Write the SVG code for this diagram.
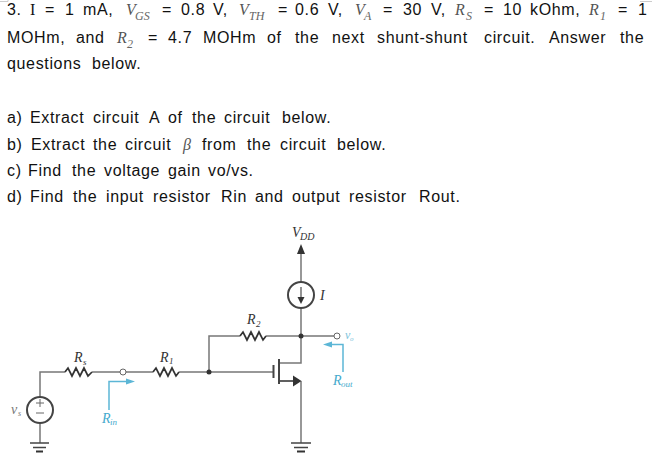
<svg xmlns="http://www.w3.org/2000/svg" width="652" height="468" viewBox="0 0 652 468">
<style>
.t{font:16px "Liberation Sans",Arial,sans-serif;fill:#111;letter-spacing:.65px}
.i{font:16px "Liberation Serif","Times New Roman",serif;fill:#111}
.m{font:italic 16px "Liberation Serif","Times New Roman",serif;fill:#555}
.ms{font:italic 12px "Liberation Serif","Times New Roman",serif;fill:#666}
.c{font-family:"Liberation Serif","Times New Roman",serif;font-style:italic;fill:#333}
.b{font-family:"Liberation Serif","Times New Roman",serif;font-style:italic;fill:#45aacd}
.w{fill:none;stroke:#777;stroke-width:1.5}
.r{fill:none;stroke:#333;stroke-width:1.7;stroke-linejoin:miter}
.s{fill:#fff;stroke:#444;stroke-width:2}
.o{fill:#fff;stroke:#666;stroke-width:1}
.g{stroke:#444;stroke-width:1.5;fill:none}
.a{fill:none;stroke:#5cb6d6;stroke-width:1.5}
</style>
<g id="scan-edges"><path d="M0 1.500H8V0M640 1.500H652" stroke="#ccc" stroke-width="1" fill="none"/></g>
<g id="problem-text">
<text class="t" y="15"><tspan x="7">3.</tspan><tspan x="45">=</tspan><tspan x="65">1</tspan><tspan x="83">mA,</tspan><tspan x="162">=</tspan><tspan x="181">0.8</tspan><tspan x="213">V,</tspan><tspan x="278">=</tspan><tspan x="295">0.6</tspan><tspan x="328">V,</tspan><tspan x="383">=</tspan><tspan x="403">30</tspan><tspan x="431">V,</tspan><tspan x="484">=</tspan><tspan x="503">10</tspan><tspan x="530">kOhm,</tspan><tspan x="618">=</tspan><tspan x="638">1</tspan></text>
<text class="i" x="30" y="15">I</text>
<text class="m" x="126" y="15">V</text><text class="ms" x="135" y="20">GS</text>
<text class="m" x="239" y="15">V</text><text class="ms" x="249" y="20">TH</text>
<text class="m" x="355" y="15">V</text><text class="ms" x="364" y="20">A</text>
<text class="m" x="455" y="15">R</text><text class="ms" x="466" y="20">S</text>
<text class="m" x="589" y="15">R</text><text class="ms" x="600" y="20">1</text>
<text class="t" y="43"><tspan x="7">MOHm,</tspan><tspan x="76">and</tspan><tspan x="148">=</tspan><tspan x="168">4.7</tspan><tspan x="203">MOHm</tspan><tspan x="267">of</tspan><tspan x="295">the</tspan><tspan x="332">next</tspan><tspan x="377">shunt-shunt</tspan><tspan x="484">circuit.</tspan><tspan x="549">Answer</tspan><tspan x="620">the</tspan></text>
<text class="m" x="117" y="43">R</text><text class="ms" x="127" y="48">2</text>
<text class="t" y="69"><tspan x="7">questions</tspan><tspan x="92">below.</tspan></text>
<text class="t" y="123"><tspan x="7">a)</tspan><tspan x="30">Extract</tspan><tspan x="93">circuit</tspan><tspan x="149">A</tspan><tspan x="168">of</tspan><tspan x="192">the</tspan><tspan x="224">circuit</tspan><tspan x="282">below.</tspan></text>
<text class="t" y="150"><tspan x="7">b)</tspan><tspan x="31">Extract</tspan><tspan x="93">the</tspan><tspan x="125">circuit</tspan><tspan x="202">from</tspan><tspan x="247">the</tspan><tspan x="280">circuit</tspan><tspan x="337">below.</tspan></text>
<text class="m" x="183" y="150">β</text>
<text class="t" y="176"><tspan x="7">c)</tspan><tspan x="28">Find</tspan><tspan x="72">the</tspan><tspan x="104">voltage</tspan><tspan x="168">gain</tspan><tspan x="208">vo/vs.</tspan></text>
<text class="t" y="202"><tspan x="7">d)</tspan><tspan x="30">Find</tspan><tspan x="73">the</tspan><tspan x="106">input</tspan><tspan x="153">resistor</tspan><tspan x="221">Rin</tspan><tspan x="255">and</tspan><tspan x="292">output</tspan><tspan x="349">resistor</tspan><tspan x="419">Rout.</tspan></text>
</g>
<g id="connectors">
<path class="w" d="M301 252V282M301 308V363M301 381V443M301 336H334M301 336H266M240 336H209V372M209 372H273M179 372H209M153 372H126M120 372H92M65 372H40V397M40 423V443M279 363H301V336"/>
<path d="M279 381H293" stroke="#444" stroke-width="1.7" fill="none"/>
<path d="M293 375.500L301.500 381L293 386.500Z" fill="#333"/>
<path d="M301 244L297 254H305Z" fill="#333"/>
<path class="a" d="M109 410V381.500H130"/><path d="M135 381.500L126 378.500V384.500Z" fill="#5cb6d6"/>
<path class="a" d="M343 372V344.500H328"/><path d="M323 344.500L332 341.500V347.500Z" fill="#5cb6d6"/>
</g>
<g id="vdd"><text class="c" x="292" y="237" font-size="14">V</text><text class="c" x="300" y="240" font-size="10">DD</text></g>
<g id="current-source"><circle class="s" cx="301" cy="295" r="13"/><path d="M301 287V301" stroke="#666" stroke-width="1.4"/><path d="M297.500 297L301 304L304.500 297Z" fill="#333"/><text class="c" x="320" y="300" font-size="14">I</text></g>
<g id="r2"><path class="r" d="M240 336L243 332L247 340L251 332L255 340L259 332L263 340L266 336"/><text class="c" x="247" y="324" font-size="14">R</text><text class="c" x="256" y="327" font-size="9" font-style="normal">2</text></g>
<g id="r1"><path class="r" d="M153 372L156 368L160 376L164 368L168 376L172 368L176 376L179 372"/><text class="c" x="160" y="362" font-size="14">R</text><text class="c" x="169" y="364" font-size="9" font-style="normal">1</text></g>
<g id="rs"><path class="r" d="M65 372L68 368L72 376L76 368L80 376L84 368L88 376L92 372"/><text class="c" x="74" y="362" font-size="14">R</text><text class="c" x="83" y="365" font-size="9">s</text></g>
<g id="junctions"><circle cx="301" cy="336" r="2.500" fill="#333"/><circle cx="209" cy="372" r="2.500" fill="#333"/></g>
<g id="vo"><circle class="o" cx="337" cy="336" r="3"/><text class="b" x="345" y="339" font-size="12" opacity=".7">v</text><text class="b" x="350" y="341" font-size="7" opacity=".7">o</text></g>
<g id="in-terminal"><circle class="o" cx="123" cy="372" r="3"/></g>
<g id="vs"><circle class="s" cx="40" cy="410" r="13"/><path d="M36 403H44M40 399V407M36 413H44" stroke="#666" stroke-width="1" fill="none"/><text class="c" x="11" y="414" font-size="14" style="fill:#777">v</text><text class="c" x="18" y="416" font-size="8" style="fill:#777">s</text></g>
<g id="mosfet"><path d="M273.500 365V378M279 359V384" stroke="#444" stroke-width="2" fill="none"/></g>
<g id="gnd-left"><path class="g" d="M30 443H49M33 447.500H46"/><path d="M36 451.500H43" stroke="#333" stroke-width="2"/></g>
<g id="gnd-right"><path class="g" d="M291 443H311M294 447.500H308"/><path d="M297 451.500H305" stroke="#333" stroke-width="2"/></g>
<g id="rin"><text class="b" x="102" y="423" font-size="14">R</text><text class="b" x="110" y="425" font-size="9" font-style="normal">in</text></g>
<g id="rout"><text class="b" x="333" y="385" font-size="14">R</text><text class="b" x="341" y="387" font-size="9" font-style="normal">out</text></g>
</svg>
